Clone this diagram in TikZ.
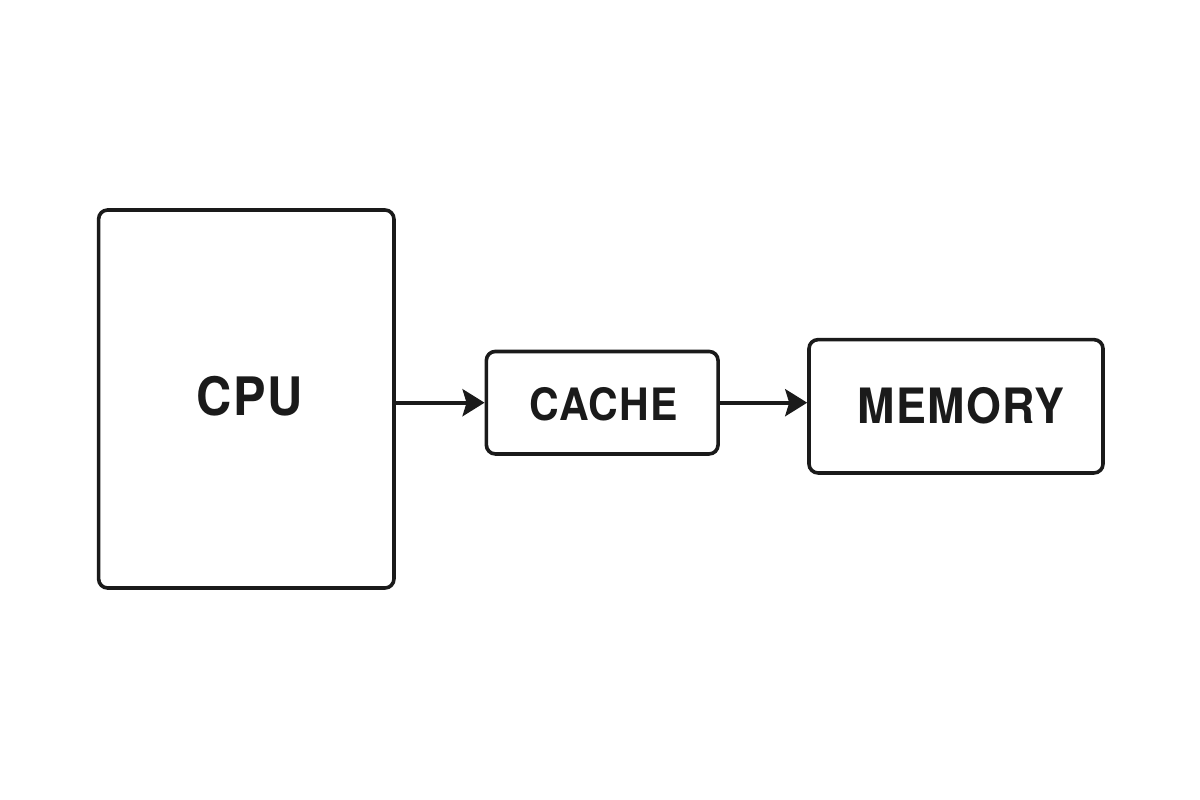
\documentclass[tikz,border=0pt]{standalone}
\usepackage{fontspec}
\setmainfont{TeX Gyre Heros}[LetterSpace=3]
\usetikzlibrary{arrows.meta}
\definecolor{ink}{HTML}{1A1A1A}
\tikzset{
  box/.style={draw=ink, line width=3.6pt, rounded corners=9pt, rectangle, inner sep=0pt, text=ink, font=\bfseries},
  lab/.style={text=ink, font=\bfseries, inner sep=0pt},
  arr/.style={draw=ink, line width=3.8pt, -{Stealth[length=22pt,width=27pt,inset=4pt]}}
}
\newcommand{\lbl}[2]{\fontsize{#1}{#1}\selectfont\scalebox{0.92}[1]{#2}}
\begin{document}
\begin{tikzpicture}[x=1pt,y=-1pt]
\useasboundingbox (0,0) rectangle (1200,800);
\fill[white] (0,0) rectangle (1200,800);
\node[box, minimum width=295.3pt, minimum height=378pt] (cpu) at (246.3,399) {};
\node[lab] (cput) at (249.5,396) {\lbl{53}{CPU}};
\node[box, minimum width=231.7pt, minimum height=102.5pt] (cache) at (602.2,402.7) {};
\node[lab] (cachet) at (604,404) {\lbl{44.6}{CACHE}};
\node[box, minimum width=294pt, minimum height=133.3pt] (mem) at (956,406.3) {};
\node[lab] (memt) at (961,405.5) {\lbl{48.7}{MEMORY}};
\draw[arr] (cpu.east |- cache.west) -- (cache.west);
\draw[arr] (cache.east) -- (mem.west |- cache.east);
\end{tikzpicture}
\end{document}
